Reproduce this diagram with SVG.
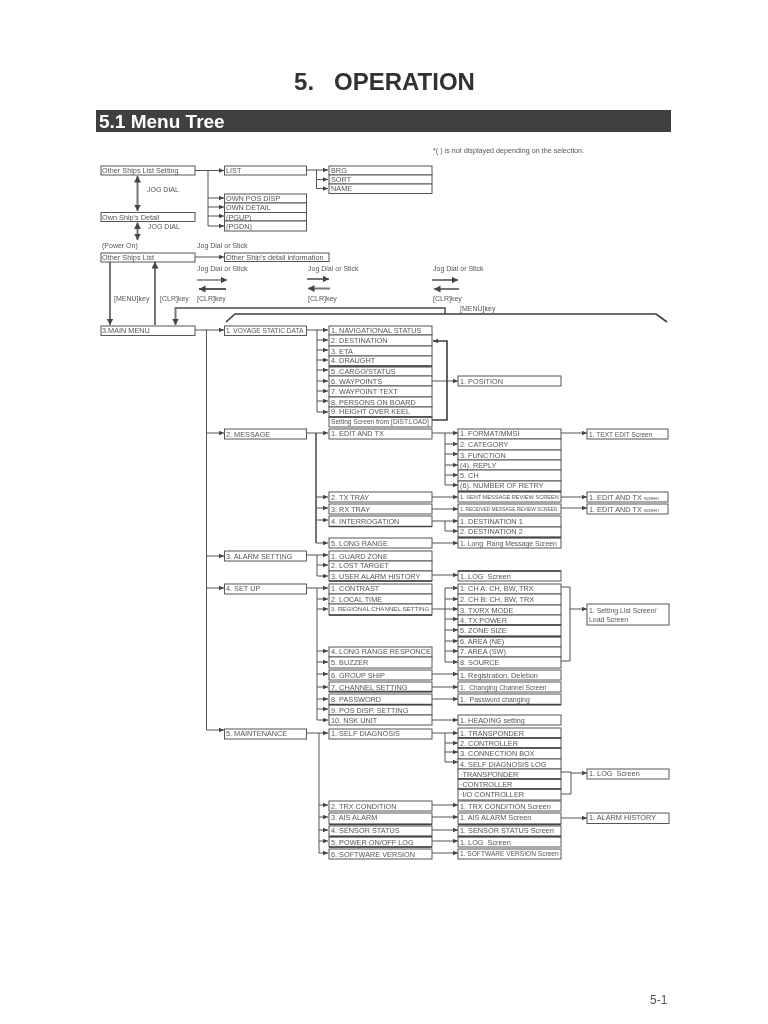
<svg xmlns="http://www.w3.org/2000/svg" width="768" height="1024" viewBox="0 0 768 1024">
<style>
text{font-family:"Liberation Sans",Arial,sans-serif;fill:#555;font-size:7px}
.b rect{fill:#fff;stroke:#555;stroke-width:1}
.b text{font-size:7.3px}
.b .s5 text{font-size:4.85px}.b .s55 text{font-size:5.6px}.b .s62 text{font-size:6.2px}.b .s6 text{font-size:6.6px}.b .s7 text{font-size:6.9px}
.c path{fill:none;stroke:#555;stroke-width:1}
.c .a{marker-end:url(#m)}
.c .t{stroke-width:1.5;stroke:#444}
.c .g{stroke-width:2;stroke:#777}
.c .d{stroke-width:1.6;stroke:#3c3c3c}
.h{stroke:#444;stroke-width:1.4;fill:none}
</style>
<defs>
<marker id="m" markerUnits="userSpaceOnUse" markerWidth="6" markerHeight="6" refX="5" refY="2.5" orient="auto"><path d="M0 0.3L5 2.500L0 4.700z" fill="#444"/></marker>
<marker id="l" markerUnits="userSpaceOnUse" markerWidth="8" markerHeight="8" refX="6.5" refY="3.5" orient="auto-start-reverse"><path d="M0 0L6.500 3.500L0 7z" fill="#444"/></marker>
<filter id="soft" x="0" y="0" width="100%" height="100%"><feGaussianBlur stdDeviation="0.3"/></filter>
</defs>
<rect width="768" height="1024" fill="#fff"/>
<g filter="url(#soft)">
<g id="heading">
<text x="384.500" y="90" text-anchor="middle" xml:space="preserve" style="font-size:24px;font-weight:bold;fill:#333">5.   OPERATION</text>
<rect x="96" y="110" width="575" height="22" fill="#404040"/>
<text x="99" y="128" style="font-size:19px;font-weight:bold;fill:#fff">5.1 Menu Tree</text>
<text x="650" y="1004" style="font-size:12px;fill:#555">5-1</text>
</g>
<g id="connectors" class="c">
<path class="a" d="M195 170.500H224"/><path d="M208 170.500V226"/>
<path class="a" d="M208 198H224"/><path class="a" d="M208 207H224"/><path class="a" d="M208 216H224"/><path class="a" d="M208 226H224"/>
<path class="a" d="M307 170H328"/><path class="a" d="M316.500 170V179.500H328"/><path class="a" d="M316.500 179.500V188.500H328"/>
<path class="g" style="marker-end:url(#l);marker-start:url(#l)" d="M137.500 176V211"/>
<path class="g" style="marker-end:url(#l);marker-start:url(#l)" d="M137.500 222.500V240"/>
<path class="a" d="M195 257H224"/>
<path class="g" style="marker-end:url(#l)" d="M110 262V325"/>
<path class="g" style="marker-end:url(#l)" d="M155 325V262"/>
<path class="g" style="marker-end:url(#l);stroke:#999" d="M197 280H227"/><path class="g" style="marker-end:url(#l);stroke:#555" d="M226 289H199"/>
<path class="g" style="marker-end:url(#l)" d="M307 279H329"/><path class="g" style="marker-end:url(#l)" d="M330 288.500H308"/>
<path class="g" style="marker-end:url(#l)" d="M432 280H458"/><path class="g" style="marker-end:url(#l)" d="M459 289H434"/>
<path class="g" style="marker-end:url(#l)" d="M445 314V308H175.500V325"/>
<path class="d" d="M226 322L235 314H656L667 322"/>
<path class="a" d="M195 330H224"/><path d="M206.500 330V730"/>
<path class="a" d="M206.500 433H224"/><path class="a" d="M206.500 556H224"/><path class="a" d="M206.500 588H224"/><path class="a" d="M206.500 730H224"/>
<path class="a" d="M307 330H328"/><path d="M317 330V412"/>
<path class="a" d="M317 340H328"/><path class="a" d="M317 350H328"/><path class="a" d="M317 360H328"/><path class="a" d="M317 370H328"/><path class="a" d="M317 381H328"/><path class="a" d="M317 391H328"/><path class="a" d="M317 401H328"/><path class="a" d="M317 412H328"/>
<path class="a" d="M307 433H328"/><path class="t" d="M316 433V543"/>
<path class="a" d="M316 497H328"/><path class="a" d="M316 508H328"/><path class="a" d="M316 520H328"/><path class="a" d="M316 543H328"/>
<path class="a" d="M307 555H328"/><path d="M317 555V576"/><path class="a" d="M317 565H328"/><path class="a" d="M317 576H328"/>
<path class="a" d="M307 588H328"/><path d="M317 588V720"/>
<path class="a" d="M317 599H328"/><path class="a" d="M317 609H328"/><path class="a" d="M317 651H328"/><path class="a" d="M317 662H328"/><path class="a" d="M317 674H328"/><path class="a" d="M317 687H328"/><path class="a" d="M317 699H328"/><path class="a" d="M317 709H328"/><path class="a" d="M317 720H328"/>
<path class="a" d="M307 733H328"/><path d="M319 733V853"/>
<path class="a" d="M319 805H328"/><path class="a" d="M319 817H328"/><path class="a" d="M319 830H328"/><path class="a" d="M319 841H328"/><path class="a" d="M319 853H328"/>
<path class="a" d="M432 381H458"/>
<path class="d a" d="M432 420H447V341H433"/>
<path class="a" d="M432 433H458"/><path d="M445 433V485"/><path class="a" d="M445 444H458"/><path class="a" d="M445 454H458"/><path class="a" d="M445 465H458"/><path class="a" d="M445 475H458"/><path class="a" d="M445 485H458"/>
<path class="a" d="M561 433H587"/><path class="a" d="M432 497H458"/><path class="a" d="M561 497H587"/><path class="a" d="M432 509H458"/><path class="a" d="M561 508H587"/>
<path class="a" d="M432 521H458"/><path class="a" d="M445 521V531H458"/><path class="a" d="M432 543H458"/><path class="a" d="M432 575H458"/>
<path class="a" d="M432 609H458"/><path d="M445 588V662"/>
<path class="a" d="M445 588H458"/><path class="a" d="M445 599H458"/><path class="a" d="M445 619H458"/><path class="a" d="M445 630H458"/><path class="a" d="M445 641H458"/><path class="a" d="M445 651H458"/><path class="a" d="M445 662H458"/>
<path d="M561 587H570V661H561"/><path class="a" d="M570 609H587"/>
<path class="a" d="M432 674H458"/><path class="a" d="M432 687H458"/><path class="a" d="M432 699H458"/><path class="a" d="M432 720H458"/>
<path class="a" d="M432 733H458"/><path d="M445 733V762"/><path class="a" d="M445 743H458"/><path class="a" d="M445 752H458"/><path class="a" d="M445 762H458"/>
<path d="M561 772H571V794H561"/><path class="a" d="M571 773H587"/>
<path class="a" d="M432 805H458"/><path class="a" d="M432 817H458"/><path class="a" d="M561 818H587"/><path class="a" d="M432 830H458"/><path class="a" d="M432 841H458"/><path class="a" d="M432 853H458"/>
</g>
<g id="labels">
<text x="433" y="153" style="font-size:7.2px">*( ) is not displayed depending on the selection.</text>
<text x="147" y="192">JOG DIAL</text><text x="148" y="229">JOG DIAL</text>
<text x="102" y="248">(Power On)</text>
<text x="197" y="248">Jog Dial or Stick</text><text x="197" y="271">Jog Dial or Stick</text><text x="308" y="271">Jog Dial or Stick</text><text x="433" y="271">Jog Dial or Stick</text>
<text x="114" y="301">[MENU]key</text><text x="160" y="301">[CLR]key</text><text x="197" y="301">[CLR]key</text><text x="308" y="301">[CLR]key</text><text x="433" y="301">[CLR]key</text>
<text x="460" y="311">[MENU]key</text>
</g>
<g class="b">
<g id="n1"><rect x="101" y="166" width="94" height="9"/><text x="102" y="173">Other Ships List Setting</text></g>
<g id="n2"><rect x="101" y="212.500" width="94" height="9"/><text x="102" y="219.500">Own Ship's Detail</text></g>
<g id="n3"><rect x="101" y="253" width="94" height="9"/><text x="102" y="260">Other Ships List</text></g>
<g id="n4"><rect x="101" y="326" width="94" height="9.500"/><text x="102" y="333">3.MAIN MENU</text></g>
<g id="n5"><rect x="224.500" y="166" width="82" height="9"/><text x="226" y="173">LIST</text></g>
<g id="n6"><rect x="224.500" y="194" width="82" height="9"/><text x="226" y="201">OWN POS DISP</text></g>
<g id="n7"><rect x="224.500" y="203" width="82" height="9.500"/><text x="226" y="210">OWN DETAIL</text></g>
<g id="n8"><rect x="224.500" y="212.500" width="82" height="8.500"/><text x="226" y="219.500">(PGUP)</text></g>
<g id="n9"><rect x="224.500" y="221" width="82" height="10"/><text x="226" y="228.500">(PGDN)</text></g>
<g id="n10"><rect x="224.500" y="253" width="104.500" height="8.500"/><text x="226" y="259.500">Other Ship's detail information</text></g>
<g id="n11"><rect x="329" y="166" width="103" height="9"/><text x="331" y="173">BRG</text></g>
<g id="n12"><rect x="329" y="175" width="103" height="9"/><text x="331" y="182">SORT</text></g>
<g id="n13"><rect x="329" y="184" width="103" height="9.500"/><text x="331" y="191">NAME</text></g>
<g id="n14" class="s6"><rect x="224.500" y="326" width="82" height="9.500"/><text x="226" y="333">1. VOYAGE STATIC DATA</text></g>
<g id="n15"><rect x="224.500" y="429" width="82" height="10"/><text x="226" y="436.500">2. MESSAGE</text></g>
<g id="n16"><rect x="224.500" y="551" width="82" height="10"/><text x="226" y="558.500">3. ALARM SETTING</text></g>
<g id="n17"><rect x="224.500" y="584" width="82" height="10"/><text x="226" y="591">4. SET UP</text></g>
<g id="n18"><rect x="224.500" y="729" width="82" height="10"/><text x="226" y="736">5. MAINTENANCE</text></g>
<g id="n19"><rect x="329" y="326" width="103" height="9"/><text x="331" y="333">1. NAVIGATIONAL STATUS</text></g>
<g id="n20"><rect x="329" y="335" width="103" height="11"/><text x="331" y="343">2. DESTINATION</text></g>
<g id="n21"><rect x="329" y="346" width="103" height="10"/><text x="331" y="353.500">3. ETA</text></g>
<g id="n22"><rect x="329" y="356" width="103" height="10"/><text x="331" y="363">4. DRAUGHT</text></g>
<g id="n23"><rect x="329" y="367" width="103" height="9"/><text x="331" y="373.500">5 .CARGO/STATUS</text></g>
<g id="n24"><rect x="329" y="376" width="103" height="10"/><text x="331" y="383.500">6. WAYPOINTS</text></g>
<g id="n25"><rect x="329" y="386" width="103" height="11"/><text x="331" y="394">7. WAYPOINT TEXT</text></g>
<g id="n26"><rect x="329" y="397" width="103" height="10"/><text x="331" y="404.500">8. PERSONS ON BOARD</text></g>
<g id="n27"><rect x="329" y="407" width="103" height="10"/><text x="331" y="413.500">9. HEIGHT OVER KEEL</text></g>
<g id="n28" class="s6"><rect x="329" y="417" width="103" height="10"/><text x="331" y="424">Setting Screen from [DIST.LOAD]</text></g>
<g id="n29"><rect x="329" y="429" width="103" height="10"/><text x="331" y="436">1. EDIT AND TX</text></g>
<g id="n30"><rect x="329" y="492" width="103" height="10"/><text x="331" y="499.500">2. TX TRAY</text></g>
<g id="n31"><rect x="329" y="504" width="103" height="10"/><text x="331" y="511.500">3. RX TRAY</text></g>
<g id="n32"><rect x="329" y="516" width="103" height="10.500"/><text x="331" y="523.500">4. INTERROGATION</text></g>
<g id="n33"><rect x="329" y="538" width="103" height="10"/><text x="331" y="545.500">5. LONG RANGE</text></g>
<g id="n34"><rect x="329" y="551" width="103" height="10"/><text x="331" y="558.500">1. GUARD ZONE</text></g>
<g id="n35"><rect x="329" y="561" width="103" height="10"/><text x="331" y="568">2. LOST TARGET</text></g>
<g id="n36"><rect x="329" y="571" width="103" height="10"/><text x="331" y="578.500">3. USER ALARM HISTORY</text></g>
<g id="n37"><rect x="329" y="584" width="103" height="10"/><text x="331" y="591">1. CONTRAST</text></g>
<g id="n38"><rect x="329" y="594" width="103" height="10"/><text x="331" y="601.500">2. LOCAL TIME</text></g>
<g id="n39" class="s62"><rect x="329" y="604" width="103" height="11"/><text x="331" y="611">3. REGIONAL CHANNEL SETTING</text></g>
<g id="n40"><rect x="329" y="647" width="103" height="10"/><text x="331" y="653.500">4. LONG RANGE RESPONCE</text></g>
<g id="n41"><rect x="329" y="657" width="103" height="11"/><text x="331" y="665">5. BUZZER</text></g>
<g id="n42"><rect x="329" y="670" width="103" height="10"/><text x="331" y="677.500">6. GROUP SHIP</text></g>
<g id="n43"><rect x="329" y="682" width="103" height="10"/><text x="331" y="689.500">7. CHANNEL SETTING</text></g>
<g id="n44"><rect x="329" y="694" width="103" height="11"/><text x="331" y="702">8. PASSWORD</text></g>
<g id="n45"><rect x="329" y="705" width="103" height="10"/><text x="331" y="712.500">9. POS DISP. SETTING</text></g>
<g id="n46"><rect x="329" y="715" width="103" height="10"/><text x="331" y="723">10. NSK UNIT</text></g>
<g id="n47"><rect x="329" y="729" width="103" height="10"/><text x="331" y="736">1. SELF DIAGNOSIS</text></g>
<g id="n48"><rect x="329" y="801" width="103" height="10"/><text x="331" y="808.500">2. TRX CONDITION</text></g>
<g id="n49"><rect x="329" y="813" width="103" height="11"/><text x="331" y="820">3. AIS ALARM</text></g>
<g id="n50"><rect x="329" y="826" width="103" height="10"/><text x="331" y="833">4. SENSOR STATUS</text></g>
<g id="n51"><rect x="329" y="837" width="103" height="10"/><text x="331" y="844.500">5. POWER ON/OFF LOG</text></g>
<g id="n52"><rect x="329" y="849" width="103" height="10"/><text x="331" y="856.500">6. SOFTWARE VERSION</text></g>
<g id="n53"><rect x="458" y="376" width="103" height="10"/><text x="460" y="383.500">1. POSITION</text></g>
<g id="n54"><rect x="458" y="429" width="103" height="10"/><text x="460" y="436">1. FORMAT/MMSI</text></g>
<g id="n55"><rect x="458" y="439" width="103" height="11"/><text x="460" y="447">2. CATEGORY</text></g>
<g id="n56"><rect x="458" y="450" width="103" height="10"/><text x="460" y="457.500">3. FUNCTION</text></g>
<g id="n57"><rect x="458" y="460" width="103" height="10"/><text x="460" y="467.500">(4). REPLY</text></g>
<g id="n58"><rect x="458" y="470" width="103" height="11"/><text x="460" y="478">5. CH</text></g>
<g id="n59"><rect x="458" y="481" width="103" height="10"/><text x="460" y="487.500">(6). NUMBER OF RETRY</text></g>
<g id="n60" class="s55"><rect x="458" y="492" width="103" height="10"/><text x="460" y="498.500">1. SENT MESSAGE REVIEW SCREEN</text></g>
<g id="n61" class="s5"><rect x="458" y="504" width="103" height="10"/><text x="460" y="511">1. RECEIVED MESSAGE REVIEW SCREEN</text></g>
<g id="n62"><rect x="458" y="516" width="103" height="11"/><text x="460" y="523.500">1. DESTINATION 1</text></g>
<g id="n63"><rect x="458" y="527" width="103" height="10"/><text x="460" y="534">2. DESTINATION 2</text></g>
<g id="n64" class="s7"><rect x="458" y="538" width="103" height="10"/><text x="460" y="545.500" xml:space="preserve">1. Long  Rang Message Screen</text></g>
<g id="n65"><rect x="458" y="571" width="103" height="10"/><text x="460" y="578.500" xml:space="preserve">1. LOG  Screen</text></g>
<g id="n66"><rect x="458" y="584" width="103" height="10"/><text x="460" y="591">1. CH A: CH, BW, TRX</text></g>
<g id="n67"><rect x="458" y="594" width="103" height="11"/><text x="460" y="602">2. CH B: CH, BW, TRX</text></g>
<g id="n68"><rect x="458" y="605" width="103" height="10"/><text x="460" y="612.500">3. TX/RX MODE</text></g>
<g id="n69"><rect x="458" y="615" width="103" height="10"/><text x="460" y="622.500">4. TX POWER</text></g>
<g id="n70"><rect x="458" y="625" width="103" height="11"/><text x="460" y="633">5. ZONE SIZE</text></g>
<g id="n71"><rect x="458" y="637" width="103" height="10"/><text x="460" y="643.500">6. AREA (NE)</text></g>
<g id="n72"><rect x="458" y="647" width="103" height="10"/><text x="460" y="654">7. AREA (SW)</text></g>
<g id="n73"><rect x="458" y="657" width="103" height="11"/><text x="460" y="665">8. SOURCE</text></g>
<g id="n74"><rect x="458" y="670" width="103" height="10"/><text x="460" y="677.500">1. Registration, Deletion</text></g>
<g id="n75" class="s6"><rect x="458" y="682" width="103" height="10"/><text x="460" y="689.500" xml:space="preserve">1.  Changing Channel Screen</text></g>
<g id="n76" class="s7"><rect x="458" y="694" width="103" height="11"/><text x="460" y="702" xml:space="preserve">1.  Password changing</text></g>
<g id="n77"><rect x="458" y="715" width="103" height="10"/><text x="460" y="723">1. HEADING setting</text></g>
<g id="n78"><rect x="458" y="728" width="103" height="10"/><text x="460" y="735.500">1. TRANSPONDER</text></g>
<g id="n79"><rect x="458" y="738" width="103" height="10"/><text x="460" y="745.500">2. CONTROLLER</text></g>
<g id="n80"><rect x="458" y="748" width="103" height="11"/><text x="460" y="756">3. CONNECTION BOX</text></g>
<g id="n81"><rect x="458" y="759" width="103" height="10"/><text x="460" y="766.500">4. SELF DIAGNOSIS LOG</text></g>
<g id="n82"><rect x="458" y="769" width="103" height="10"/><text x="460" y="776.500">·TRANSPONDER</text></g>
<g id="n83"><rect x="458" y="779" width="103" height="10"/><text x="460" y="786.500">·CONTROLLER</text></g>
<g id="n84"><rect x="458" y="789" width="103" height="11"/><text x="460" y="796.500">·I/O CONTROLLER</text></g>
<g id="n85"><rect x="458" y="801" width="103" height="10"/><text x="460" y="808.500">1. TRX CONDITION Screen</text></g>
<g id="n86"><rect x="458" y="813" width="103" height="11"/><text x="460" y="820">1. AIS ALARM Screen</text></g>
<g id="n87"><rect x="458" y="826" width="103" height="10"/><text x="460" y="833">1. SENSOR STATUS Screen</text></g>
<g id="n88"><rect x="458" y="837" width="103" height="10"/><text x="460" y="844.500" xml:space="preserve">1. LOG  Screen</text></g>
<g id="n89" class="s6"><rect x="458" y="849" width="103" height="10"/><text x="460" y="855.500">1. SOFTWARE VERSION Screen</text></g>
<g id="n90" class="s6"><rect x="587" y="429" width="81" height="10"/><text x="589" y="437">1. TEXT EDIT Screen</text></g>
<g id="n91"><rect x="587" y="492" width="81" height="10"/><text x="589" y="500">1. EDIT AND TX <tspan style="font-size:5px">screen</tspan></text></g>
<g id="n92"><rect x="587" y="504" width="81" height="10"/><text x="589" y="512">1. EDIT AND TX <tspan style="font-size:5px">screen</tspan></text></g>
<g id="n93" class="s7"><rect x="587" y="604" width="82" height="21"/><text x="589" y="612.500">1. Setting List Screen/</text><text x="589" y="621.500">Load Screen</text></g>
<g id="n94"><rect x="587" y="769" width="82" height="10"/><text x="589" y="775.500" xml:space="preserve">1. LOG  Screen</text></g>
<g id="n95"><rect x="587" y="813" width="82" height="10.500"/><text x="589" y="820">1. ALARM HISTORY</text></g>
</g>
<g id="heavy-edges">
<path class="h" d="M329 366H432M329 417H432M458 491.500H561M329 526.500H432M458 537.500H561M329 581H432M458 571H561M458 636.500H561M458 625H561M329 615H432M458 738H561M458 748H561M458 779H561M458 789H561M458 824.500H561M458 836.500H561M329 824.500H432M329 836.500H432M329 847H432M329 704.500H432M458 704.500H561M329 691.500H432"/>
</g>
</g>
</svg>
